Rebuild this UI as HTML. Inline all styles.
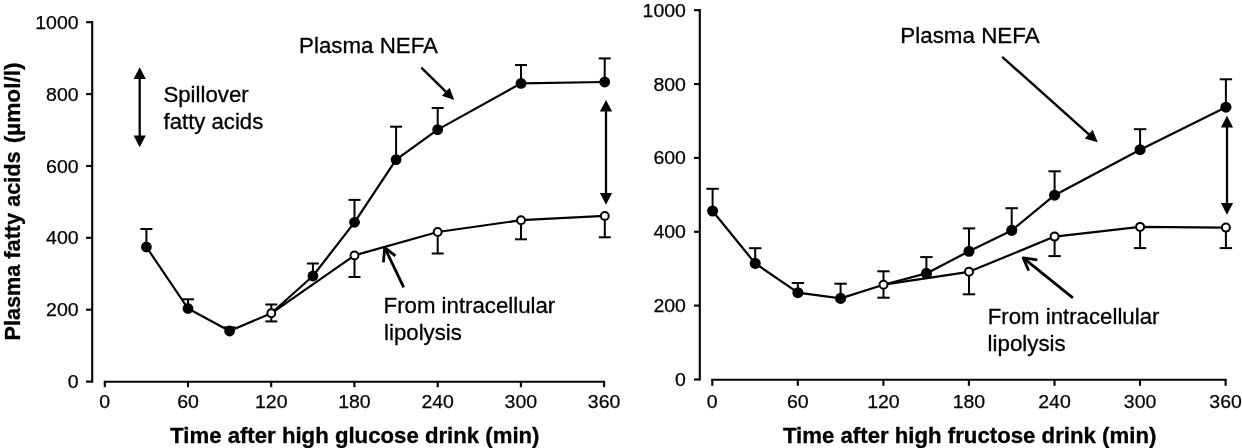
<!DOCTYPE html>
<html><head><meta charset="utf-8"><title>Plasma fatty acids</title>
<style>
html,body{margin:0;padding:0;background:#fff;}
body{width:1242px;height:448px;overflow:hidden;}
svg{display:block;}
text{font-family:"Liberation Sans",sans-serif;fill:#000;}
.t{font-size:19px;stroke:#000;stroke-width:0.25px;}
.a{font-size:21.6px;stroke:#000;stroke-width:0.3px;}
.b{font-size:21.2px;font-weight:bold;stroke:#000;stroke-width:0.3px;}
</style></head><body>
<svg width="1242" height="448" viewBox="0 0 1242 448">
<rect width="1242" height="448" fill="#fff"/>
<line x1="92.2" y1="21.1" x2="92.2" y2="382.7" stroke="#000" stroke-width="2.1"/>
<line x1="86.1" y1="381.6" x2="92.2" y2="381.6" stroke="#000" stroke-width="2.1"/>
<text x="67.76" y="388.1" class="t" textLength="10.84" lengthAdjust="spacingAndGlyphs">0</text>
<line x1="86.1" y1="309.7" x2="92.2" y2="309.7" stroke="#000" stroke-width="2.1"/>
<text x="46.10" y="316.2" class="t" textLength="32.50" lengthAdjust="spacingAndGlyphs">200</text>
<line x1="86.1" y1="237.8" x2="92.2" y2="237.8" stroke="#000" stroke-width="2.1"/>
<text x="46.10" y="244.3" class="t" textLength="32.50" lengthAdjust="spacingAndGlyphs">400</text>
<line x1="86.1" y1="166.0" x2="92.2" y2="166.0" stroke="#000" stroke-width="2.1"/>
<text x="46.10" y="172.5" class="t" textLength="32.50" lengthAdjust="spacingAndGlyphs">600</text>
<line x1="86.1" y1="94.1" x2="92.2" y2="94.1" stroke="#000" stroke-width="2.1"/>
<text x="46.10" y="100.6" class="t" textLength="32.50" lengthAdjust="spacingAndGlyphs">800</text>
<line x1="86.1" y1="22.2" x2="92.2" y2="22.2" stroke="#000" stroke-width="2.1"/>
<text x="35.26" y="28.7" class="t" textLength="43.34" lengthAdjust="spacingAndGlyphs">1000</text>
<line x1="103.8" y1="381.8" x2="605.1" y2="381.8" stroke="#000" stroke-width="2.1"/>
<line x1="104.8" y1="381.8" x2="104.8" y2="387.2" stroke="#000" stroke-width="2.1"/>
<text x="99.38" y="408.4" class="t" textLength="10.84" lengthAdjust="spacingAndGlyphs">0</text>
<line x1="188.0" y1="381.8" x2="188.0" y2="387.2" stroke="#000" stroke-width="2.1"/>
<text x="177.18" y="408.4" class="t" textLength="21.67" lengthAdjust="spacingAndGlyphs">60</text>
<line x1="271.2" y1="381.8" x2="271.2" y2="387.2" stroke="#000" stroke-width="2.1"/>
<text x="254.99" y="408.4" class="t" textLength="32.50" lengthAdjust="spacingAndGlyphs">120</text>
<line x1="354.4" y1="381.8" x2="354.4" y2="387.2" stroke="#000" stroke-width="2.1"/>
<text x="338.20" y="408.4" class="t" textLength="32.50" lengthAdjust="spacingAndGlyphs">180</text>
<line x1="437.7" y1="381.8" x2="437.7" y2="387.2" stroke="#000" stroke-width="2.1"/>
<text x="421.42" y="408.4" class="t" textLength="32.50" lengthAdjust="spacingAndGlyphs">240</text>
<line x1="520.9" y1="381.8" x2="520.9" y2="387.2" stroke="#000" stroke-width="2.1"/>
<text x="504.64" y="408.4" class="t" textLength="32.50" lengthAdjust="spacingAndGlyphs">300</text>
<line x1="604.1" y1="381.8" x2="604.1" y2="387.2" stroke="#000" stroke-width="2.1"/>
<text x="587.85" y="408.4" class="t" textLength="32.50" lengthAdjust="spacingAndGlyphs">360</text>
<line x1="146.4" y1="247.0" x2="146.4" y2="229.0" stroke="#000" stroke-width="2.0"/>
<line x1="140.4" y1="229.0" x2="152.4" y2="229.0" stroke="#000" stroke-width="2.0"/>
<line x1="188.0" y1="308.5" x2="188.0" y2="299.3" stroke="#000" stroke-width="2.0"/>
<line x1="182.0" y1="299.3" x2="194.0" y2="299.3" stroke="#000" stroke-width="2.0"/>
<line x1="229.6" y1="331.0" x2="229.6" y2="327.4" stroke="#000" stroke-width="2.0"/>
<line x1="223.6" y1="327.4" x2="235.6" y2="327.4" stroke="#000" stroke-width="2.0"/>
<line x1="312.9" y1="276.0" x2="312.9" y2="263.5" stroke="#000" stroke-width="2.0"/>
<line x1="306.9" y1="263.5" x2="318.9" y2="263.5" stroke="#000" stroke-width="2.0"/>
<line x1="354.5" y1="222.3" x2="354.5" y2="199.9" stroke="#000" stroke-width="2.0"/>
<line x1="348.5" y1="199.9" x2="360.5" y2="199.9" stroke="#000" stroke-width="2.0"/>
<line x1="396.1" y1="159.6" x2="396.1" y2="126.7" stroke="#000" stroke-width="2.0"/>
<line x1="390.1" y1="126.7" x2="402.1" y2="126.7" stroke="#000" stroke-width="2.0"/>
<line x1="437.7" y1="129.6" x2="437.7" y2="108.0" stroke="#000" stroke-width="2.0"/>
<line x1="431.7" y1="108.0" x2="443.7" y2="108.0" stroke="#000" stroke-width="2.0"/>
<line x1="521.0" y1="83.4" x2="521.0" y2="65.0" stroke="#000" stroke-width="2.0"/>
<line x1="515.0" y1="65.0" x2="527.0" y2="65.0" stroke="#000" stroke-width="2.0"/>
<line x1="604.7" y1="82.0" x2="604.7" y2="58.4" stroke="#000" stroke-width="2.0"/>
<line x1="598.7" y1="58.4" x2="610.7" y2="58.4" stroke="#000" stroke-width="2.0"/>
<line x1="354.5" y1="255.4" x2="354.5" y2="277.0" stroke="#000" stroke-width="2.0"/>
<line x1="348.5" y1="277.0" x2="360.5" y2="277.0" stroke="#000" stroke-width="2.0"/>
<line x1="437.7" y1="232.0" x2="437.7" y2="253.5" stroke="#000" stroke-width="2.0"/>
<line x1="431.7" y1="253.5" x2="443.7" y2="253.5" stroke="#000" stroke-width="2.0"/>
<line x1="521.0" y1="220.2" x2="521.0" y2="239.3" stroke="#000" stroke-width="2.0"/>
<line x1="515.0" y1="239.3" x2="527.0" y2="239.3" stroke="#000" stroke-width="2.0"/>
<line x1="604.8" y1="215.9" x2="604.8" y2="237.3" stroke="#000" stroke-width="2.0"/>
<line x1="598.8" y1="237.3" x2="610.8" y2="237.3" stroke="#000" stroke-width="2.0"/>
<line x1="271.3" y1="304.5" x2="271.3" y2="321.4" stroke="#000" stroke-width="2.0"/>
<line x1="265.3" y1="304.5" x2="277.3" y2="304.5" stroke="#000" stroke-width="2.0"/>
<line x1="265.3" y1="321.4" x2="277.3" y2="321.4" stroke="#000" stroke-width="2.0"/>
<polyline points="146.4,247.0 188.0,308.5 229.6,331.0 271.3,313.3 312.9,276.0 354.5,222.3 396.1,159.6 437.7,129.6 521.0,83.4 604.7,82.0" fill="none" stroke="#000" stroke-width="2.2" stroke-linejoin="round"/>
<polyline points="271.3,313.3 354.5,255.4 437.7,232.0 521.0,220.2 604.8,215.9" fill="none" stroke="#000" stroke-width="2.2" stroke-linejoin="round"/>
<circle cx="146.4" cy="247.0" r="5.4" fill="#000"/>
<circle cx="188.0" cy="308.5" r="5.4" fill="#000"/>
<circle cx="229.6" cy="331.0" r="5.4" fill="#000"/>
<circle cx="312.9" cy="276.0" r="5.4" fill="#000"/>
<circle cx="354.5" cy="222.3" r="5.4" fill="#000"/>
<circle cx="396.1" cy="159.6" r="5.4" fill="#000"/>
<circle cx="437.7" cy="129.6" r="5.4" fill="#000"/>
<circle cx="521.0" cy="83.4" r="5.4" fill="#000"/>
<circle cx="604.7" cy="82.0" r="5.4" fill="#000"/>
<circle cx="271.3" cy="313.3" r="3.95" fill="#fff" stroke="#000" stroke-width="2"/>
<circle cx="354.5" cy="255.4" r="3.95" fill="#fff" stroke="#000" stroke-width="2"/>
<circle cx="437.7" cy="232.0" r="3.95" fill="#fff" stroke="#000" stroke-width="2"/>
<circle cx="521.0" cy="220.2" r="3.95" fill="#fff" stroke="#000" stroke-width="2"/>
<circle cx="604.8" cy="215.9" r="3.95" fill="#fff" stroke="#000" stroke-width="2"/>
<text x="-1.28" y="0.0" class="b" textLength="189.15" lengthAdjust="spacingAndGlyphs" transform="translate(19.5,339.3) rotate(-90)">Plasma fatty acids</text>
<text x="-1.07" y="0.0" class="b" textLength="80.95" lengthAdjust="spacingAndGlyphs" transform="translate(19.5,142.3) rotate(-90)">(µmol/l)</text>
<text x="170.10" y="443.0" class="b" textLength="369.42" lengthAdjust="spacingAndGlyphs">Time after high glucose drink (min)</text>
<text x="299.09" y="53.0" class="a" textLength="138.91" lengthAdjust="spacingAndGlyphs">Plasma NEFA</text>
<polygon points="454.2,100.0 441.9,95.7 449.7,87.7" fill="#000"/>
<line x1="421.3" y1="67.7" x2="448.3" y2="94.2" stroke="#000" stroke-width="2.4"/>
<text x="163.43" y="102.4" class="a" textLength="85.29" lengthAdjust="spacingAndGlyphs">Spillover</text>
<text x="163.54" y="129.0" class="a" textLength="99.69" lengthAdjust="spacingAndGlyphs">fatty acids</text>
<polygon points="139.7,67.3 145.8,79.0 133.6,79.0" fill="#000"/>
<polygon points="139.7,147.3 133.6,135.6 145.8,135.6" fill="#000"/>
<line x1="139.7" y1="75.5" x2="139.7" y2="139.1" stroke="#000" stroke-width="2.3"/>
<polygon points="606.0,99.9 612.1,111.6 599.9,111.6" fill="#000"/>
<polygon points="606.0,204.8 599.9,193.1 612.1,193.1" fill="#000"/>
<line x1="606.0" y1="108.1" x2="606.0" y2="196.6" stroke="#000" stroke-width="2.3"/>
<text x="383.60" y="313.0" class="a" textLength="171.61" lengthAdjust="spacingAndGlyphs">From intracellular</text>
<text x="384.12" y="340.0" class="a" textLength="77.71" lengthAdjust="spacingAndGlyphs">lipolysis</text>
<line x1="403.7" y1="287.3" x2="384.7" y2="247.6" stroke="#000" stroke-width="2.8"/>
<polyline points="383.4,262.4 384.7,247.6 395.4,255.9" fill="none" stroke="#000" stroke-width="2.8" stroke-linejoin="round"/>
<line x1="699.8" y1="9.1" x2="699.8" y2="380.6" stroke="#000" stroke-width="2.1"/>
<line x1="694.0" y1="379.5" x2="699.8" y2="379.5" stroke="#000" stroke-width="2.1"/>
<text x="675.06" y="386.0" class="t" textLength="10.84" lengthAdjust="spacingAndGlyphs">0</text>
<line x1="694.0" y1="305.6" x2="699.8" y2="305.6" stroke="#000" stroke-width="2.1"/>
<text x="653.40" y="312.1" class="t" textLength="32.50" lengthAdjust="spacingAndGlyphs">200</text>
<line x1="694.0" y1="231.8" x2="699.8" y2="231.8" stroke="#000" stroke-width="2.1"/>
<text x="653.40" y="238.3" class="t" textLength="32.50" lengthAdjust="spacingAndGlyphs">400</text>
<line x1="694.0" y1="157.9" x2="699.8" y2="157.9" stroke="#000" stroke-width="2.1"/>
<text x="653.40" y="164.4" class="t" textLength="32.50" lengthAdjust="spacingAndGlyphs">600</text>
<line x1="694.0" y1="84.1" x2="699.8" y2="84.1" stroke="#000" stroke-width="2.1"/>
<text x="653.40" y="90.6" class="t" textLength="32.50" lengthAdjust="spacingAndGlyphs">800</text>
<line x1="694.0" y1="10.2" x2="699.8" y2="10.2" stroke="#000" stroke-width="2.1"/>
<text x="642.56" y="16.7" class="t" textLength="43.34" lengthAdjust="spacingAndGlyphs">1000</text>
<line x1="711.2" y1="379.8" x2="1226.6" y2="379.8" stroke="#000" stroke-width="2.1"/>
<line x1="712.3" y1="379.8" x2="712.3" y2="385.8" stroke="#000" stroke-width="2.1"/>
<text x="706.88" y="408.4" class="t" textLength="10.84" lengthAdjust="spacingAndGlyphs">0</text>
<line x1="797.8" y1="379.8" x2="797.8" y2="385.8" stroke="#000" stroke-width="2.1"/>
<text x="787.02" y="408.4" class="t" textLength="21.67" lengthAdjust="spacingAndGlyphs">60</text>
<line x1="883.4" y1="379.8" x2="883.4" y2="385.8" stroke="#000" stroke-width="2.1"/>
<text x="867.15" y="408.4" class="t" textLength="32.50" lengthAdjust="spacingAndGlyphs">120</text>
<line x1="968.9" y1="379.8" x2="968.9" y2="385.8" stroke="#000" stroke-width="2.1"/>
<text x="952.70" y="408.4" class="t" textLength="32.50" lengthAdjust="spacingAndGlyphs">180</text>
<line x1="1054.5" y1="379.8" x2="1054.5" y2="385.8" stroke="#000" stroke-width="2.1"/>
<text x="1038.25" y="408.4" class="t" textLength="32.50" lengthAdjust="spacingAndGlyphs">240</text>
<line x1="1140.0" y1="379.8" x2="1140.0" y2="385.8" stroke="#000" stroke-width="2.1"/>
<text x="1123.80" y="408.4" class="t" textLength="32.50" lengthAdjust="spacingAndGlyphs">300</text>
<line x1="1225.6" y1="379.8" x2="1225.6" y2="385.8" stroke="#000" stroke-width="2.1"/>
<text x="1209.35" y="408.4" class="t" textLength="32.50" lengthAdjust="spacingAndGlyphs">360</text>
<line x1="712.6" y1="211.0" x2="712.6" y2="188.8" stroke="#000" stroke-width="2.0"/>
<line x1="706.4" y1="188.8" x2="718.8" y2="188.8" stroke="#000" stroke-width="2.0"/>
<line x1="755.2" y1="263.4" x2="755.2" y2="248.2" stroke="#000" stroke-width="2.0"/>
<line x1="749.0" y1="248.2" x2="761.4" y2="248.2" stroke="#000" stroke-width="2.0"/>
<line x1="797.9" y1="292.7" x2="797.9" y2="283.0" stroke="#000" stroke-width="2.0"/>
<line x1="791.7" y1="283.0" x2="804.1" y2="283.0" stroke="#000" stroke-width="2.0"/>
<line x1="840.6" y1="298.4" x2="840.6" y2="283.7" stroke="#000" stroke-width="2.0"/>
<line x1="834.4" y1="283.7" x2="846.8" y2="283.7" stroke="#000" stroke-width="2.0"/>
<line x1="926.4" y1="273.4" x2="926.4" y2="257.1" stroke="#000" stroke-width="2.0"/>
<line x1="920.2" y1="257.1" x2="932.6" y2="257.1" stroke="#000" stroke-width="2.0"/>
<line x1="969.0" y1="251.3" x2="969.0" y2="228.4" stroke="#000" stroke-width="2.0"/>
<line x1="962.8" y1="228.4" x2="975.2" y2="228.4" stroke="#000" stroke-width="2.0"/>
<line x1="1011.7" y1="230.4" x2="1011.7" y2="208.2" stroke="#000" stroke-width="2.0"/>
<line x1="1005.5" y1="208.2" x2="1017.9" y2="208.2" stroke="#000" stroke-width="2.0"/>
<line x1="1054.6" y1="195.2" x2="1054.6" y2="171.3" stroke="#000" stroke-width="2.0"/>
<line x1="1048.4" y1="171.3" x2="1060.8" y2="171.3" stroke="#000" stroke-width="2.0"/>
<line x1="1140.1" y1="149.7" x2="1140.1" y2="129.2" stroke="#000" stroke-width="2.0"/>
<line x1="1133.9" y1="129.2" x2="1146.3" y2="129.2" stroke="#000" stroke-width="2.0"/>
<line x1="1225.9" y1="107.2" x2="1225.9" y2="79.3" stroke="#000" stroke-width="2.0"/>
<line x1="1219.7" y1="79.3" x2="1232.1" y2="79.3" stroke="#000" stroke-width="2.0"/>
<line x1="969.0" y1="271.8" x2="969.0" y2="294.3" stroke="#000" stroke-width="2.0"/>
<line x1="962.8" y1="294.3" x2="975.2" y2="294.3" stroke="#000" stroke-width="2.0"/>
<line x1="1054.6" y1="236.6" x2="1054.6" y2="256.1" stroke="#000" stroke-width="2.0"/>
<line x1="1048.4" y1="256.1" x2="1060.8" y2="256.1" stroke="#000" stroke-width="2.0"/>
<line x1="1140.1" y1="226.9" x2="1140.1" y2="248.1" stroke="#000" stroke-width="2.0"/>
<line x1="1133.9" y1="248.1" x2="1146.3" y2="248.1" stroke="#000" stroke-width="2.0"/>
<line x1="1225.9" y1="227.6" x2="1225.9" y2="248.1" stroke="#000" stroke-width="2.0"/>
<line x1="1219.7" y1="248.1" x2="1232.1" y2="248.1" stroke="#000" stroke-width="2.0"/>
<line x1="883.5" y1="271.3" x2="883.5" y2="297.7" stroke="#000" stroke-width="2.0"/>
<line x1="877.3" y1="271.3" x2="889.7" y2="271.3" stroke="#000" stroke-width="2.0"/>
<line x1="877.3" y1="297.7" x2="889.7" y2="297.7" stroke="#000" stroke-width="2.0"/>
<polyline points="712.6,211.0 755.2,263.4 797.9,292.7 840.6,298.4 883.5,284.7 926.4,273.4 969.0,251.3 1011.7,230.4 1054.6,195.2 1140.1,149.7 1225.9,107.2" fill="none" stroke="#000" stroke-width="2.2" stroke-linejoin="round"/>
<polyline points="883.5,284.7 969.0,271.8 1054.6,236.6 1140.1,226.9 1225.9,227.6" fill="none" stroke="#000" stroke-width="2.2" stroke-linejoin="round"/>
<circle cx="712.6" cy="211.0" r="5.55" fill="#000"/>
<circle cx="755.2" cy="263.4" r="5.55" fill="#000"/>
<circle cx="797.9" cy="292.7" r="5.55" fill="#000"/>
<circle cx="840.6" cy="298.4" r="5.55" fill="#000"/>
<circle cx="926.4" cy="273.4" r="5.55" fill="#000"/>
<circle cx="969.0" cy="251.3" r="5.55" fill="#000"/>
<circle cx="1011.7" cy="230.4" r="5.55" fill="#000"/>
<circle cx="1054.6" cy="195.2" r="5.55" fill="#000"/>
<circle cx="1140.1" cy="149.7" r="5.55" fill="#000"/>
<circle cx="1225.9" cy="107.2" r="5.55" fill="#000"/>
<circle cx="883.5" cy="284.7" r="4.00" fill="#fff" stroke="#000" stroke-width="2"/>
<circle cx="969.0" cy="271.8" r="4.00" fill="#fff" stroke="#000" stroke-width="2"/>
<circle cx="1054.6" cy="236.6" r="4.00" fill="#fff" stroke="#000" stroke-width="2"/>
<circle cx="1140.1" cy="226.9" r="4.00" fill="#fff" stroke="#000" stroke-width="2"/>
<circle cx="1225.9" cy="227.6" r="4.00" fill="#fff" stroke="#000" stroke-width="2"/>
<text x="782.90" y="443.0" class="b" textLength="373.45" lengthAdjust="spacingAndGlyphs">Time after high fructose drink (min)</text>
<text x="900.29" y="43.0" class="a" textLength="139.32" lengthAdjust="spacingAndGlyphs">Plasma NEFA</text>
<polygon points="1097.7,142.2 1084.8,138.6 1092.7,129.8" fill="#000"/>
<line x1="1002.2" y1="56.9" x2="1091.4" y2="136.6" stroke="#000" stroke-width="2.4"/>
<polygon points="1227.0,115.7 1233.1,127.4 1220.9,127.4" fill="#000"/>
<polygon points="1227.0,214.8 1220.9,203.1 1233.1,203.1" fill="#000"/>
<line x1="1227.0" y1="123.9" x2="1227.0" y2="206.6" stroke="#000" stroke-width="2.3"/>
<text x="987.70" y="324.4" class="a" textLength="171.71" lengthAdjust="spacingAndGlyphs">From intracellular</text>
<text x="987.61" y="351.0" class="a" textLength="78.02" lengthAdjust="spacingAndGlyphs">lipolysis</text>
<line x1="1072.9" y1="297.8" x2="1023.2" y2="257.9" stroke="#000" stroke-width="2.8"/>
<polyline points="1037.3,259.9 1023.2,257.9 1028.7,270.7" fill="none" stroke="#000" stroke-width="2.8" stroke-linejoin="round"/>
</svg>
</body></html>
